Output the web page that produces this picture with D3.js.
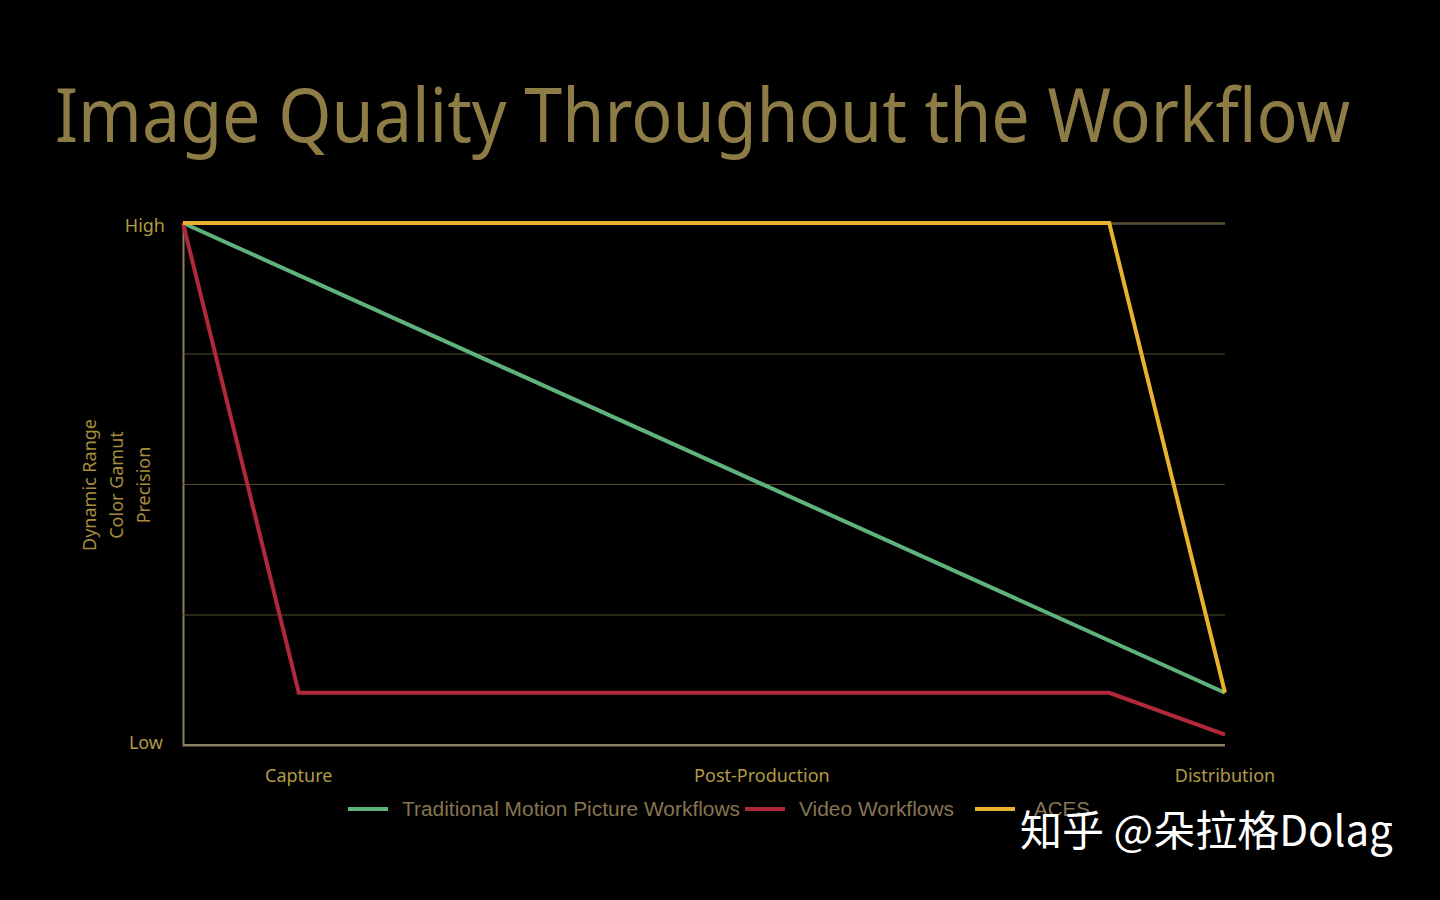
<!DOCTYPE html>
<html><head><meta charset="utf-8">
<script src="https://cdn.jsdelivr.net/npm/d3@7"></script>
<style>body{margin:0;background:#000;}</style>
</head><body><div id="container"></div>
<script>
const WIDTH = 1440, HEIGHT = 900;
const margin = {top: 223, left: 183, right: 215, bottom: 155};
const width = WIDTH - margin.left - margin.right,
      height = HEIGHT - margin.top - margin.bottom;

const stageNames = ["Capture", "Post-Production", "Distribution"];
const stagePos = [1, 5, 9];
const yTicks = [0, 0.25, 0.5, 0.75, 1];

const seriesNames = ["Traditional Motion Picture Workflows", "Video Workflows", "ACES"];
const seriesColors = ["#5fb27c", "#b0293a", "#e8b230"];
const traditionalX = [0, 9], traditionalY = [1, 0.1];
const videoX = [0, 1, 8, 9], videoY = [1, 0.1, 0.1, 0.02];
const acesX = [0, 8, 9], acesY = [1, 1, 0.1];
const seriesX = [traditionalX, videoX, acesX], seriesY = [traditionalY, videoY, acesY];

const svg = d3.select('#container').append('svg').attr("width", WIDTH).attr("height", HEIGHT);
svg.append("rect").attr("width", WIDTH).attr("height", HEIGHT).attr("fill", "#000");

svg.append("text").attr("x", 55).attr("y", 142)
   .attr("font-family", "'Noto Sans', sans-serif").attr("font-size", 74)
   .attr("fill", "#8e7c47").attr("textLength", 1295).attr("lengthAdjust", "spacingAndGlyphs")
   .text("Image Quality Throughout the Workflow");

const g = svg.append("g").attr("transform", `translate(${margin.left},${margin.top})`);
const x = d3.scaleLinear().domain([0, 9]).range([0, width]);
const y = d3.scaleLinear().domain([0, 1]).range([height, 0]);

const font = "'Noto Sans', sans-serif";
g.append("g").call(d3.axisLeft(y).tickValues(yTicks).tickSize(-width).tickFormat(""))
  .call(a => a.select(".domain").attr("stroke", "#8a7e60").attr("stroke-width", 2))
  .call(a => a.selectAll(".tick line").attr("stroke", "#554a2a"));

g.append("line").attr("x1", 0).attr("x2", width).attr("y1", height).attr("y2", height)
  .attr("stroke", "#8a7e60").attr("stroke-width", 2);

g.append("text").attr("x", -18).attr("y", y(1) + 9).attr("text-anchor", "end")
  .attr("font-family", font).attr("font-size", 18).attr("fill", "#b39a45").text("High");
g.append("text").attr("x", -20).attr("y", y(0) + 4).attr("text-anchor", "end")
  .attr("font-family", font).attr("font-size", 18).attr("fill", "#b39a45").text("Low");

["Dynamic Range", "Color Gamut", "Precision"].forEach((t, i) => {
  svg.append("text").attr("transform", `translate(${96 + i * 27},485) rotate(-90)`)
    .attr("text-anchor", "middle").attr("font-family", font).attr("font-size", 18)
    .attr("fill", "#a68c3c").text(t);
});

stageNames.forEach((s, i) => {
  g.append("text").attr("x", x(stagePos[i])).attr("y", height + 37).attr("text-anchor", "middle")
    .attr("font-family", font).attr("font-size", 18).attr("fill", "#b39a45").text(s);
});

const line = d3.line().x(d => x(d[0])).y(d => y(d[1]));
seriesNames.forEach((n, i) => {
  g.append("path").datum(seriesX[i].map((v, j) => [v, seriesY[i][j]]))
    .attr("d", line).attr("fill", "none").attr("stroke", seriesColors[i])
    .attr("stroke-width", 4).attr("stroke-linejoin", "miter");
});

const legendX = [348, 745, 975], legendTextX = [402, 799, 1034], legendLen = [338, 155, 56];
seriesNames.forEach((n, i) => {
  svg.append("line").attr("x1", legendX[i]).attr("x2", legendX[i] + 40).attr("y1", 809).attr("y2", 809)
    .attr("stroke", seriesColors[i]).attr("stroke-width", 4);
  svg.append("text").attr("x", legendTextX[i]).attr("y", 816)
    .attr("font-family", "'Liberation Sans', Arial, sans-serif").attr("font-size", 20)
    .attr("textLength", legendLen[i]).attr("lengthAdjust", "spacingAndGlyphs")
    .attr("fill", "#857550").text(n);
});

svg.append("text").attr("x", 1020).attr("y", 846)
  .attr("font-family", "'Noto Sans CJK SC', sans-serif").attr("font-size", 42)
  .attr("fill", "#fff").text("知乎 @朵拉格Dolag");
</script></body></html>
